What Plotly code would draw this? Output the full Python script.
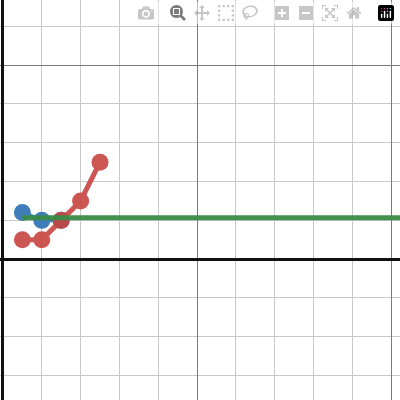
import plotly.graph_objects as go

red_x = [0.5, 1, 1.5, 2, 2.5]
red_y = [0.5, 0.5, 1, 1.5, 2.5]
blue_x = [0.5, 1, 1.5]
blue_y = [1.2, 1.0, 1.0]
green_x = [0.5, 10.5]
green_y = [1.07, 1.07]

fig = go.Figure()
fig.add_trace(go.Scatter(x=blue_x, y=blue_y, mode="lines+markers",
                         line=dict(color="#2d70b3", width=4),
                         marker=dict(color="#2d70b3", size=17), opacity=0.9))
fig.add_trace(go.Scatter(x=red_x, y=red_y, mode="lines+markers",
                         line=dict(color="#c74440", width=5),
                         marker=dict(color="#c74440", size=17), opacity=0.9))
fig.add_trace(go.Scatter(x=green_x, y=green_y, mode="lines",
                         line=dict(color="#388c46", width=5), opacity=0.95))

axis = dict(showgrid=True, gridcolor="#7a7a7a", gridwidth=1, dtick=5,
            zeroline=True, zerolinecolor="#111", zerolinewidth=2.5,
            showticklabels=False, ticks="",
            minor=dict(dtick=1, showgrid=True, gridcolor="#c8c8c8", gridwidth=1))
fig.update_layout(width=400, height=400, margin=dict(l=0, r=0, t=0, b=0),
                  plot_bgcolor="white", paper_bgcolor="white", showlegend=False,
                  xaxis=dict(range=[-0.077, 10.23], **axis),
                  yaxis=dict(range=[-3.63, 6.68], **axis))
fig.write_html("out.html", post_script="document.body.style.margin='0';")
